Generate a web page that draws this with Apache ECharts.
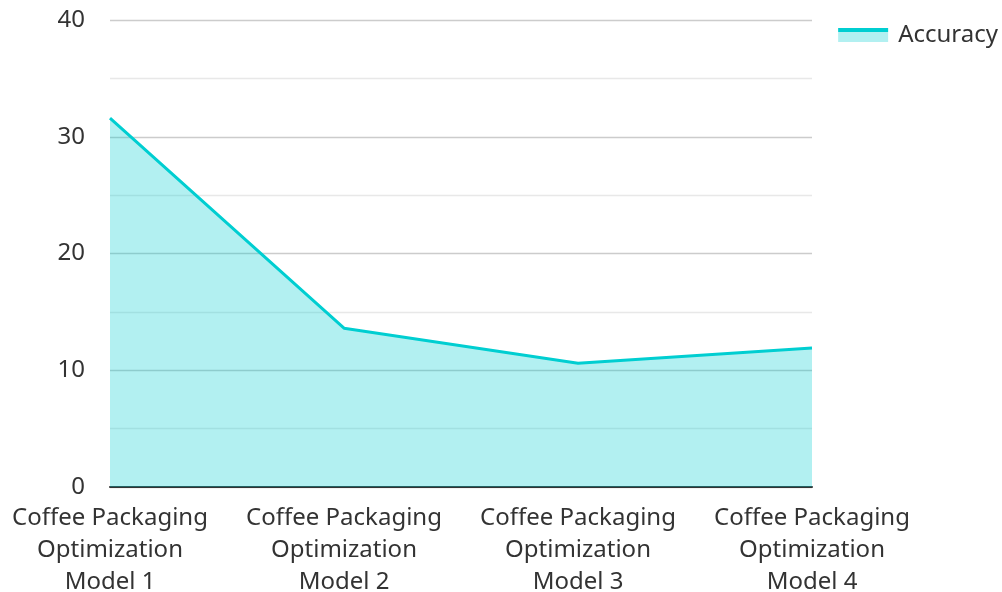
<!DOCTYPE html>
<html>
<head>
<meta charset="utf-8">
<script src="https://cdn.jsdelivr.net/npm/echarts@6/dist/echarts.min.js"></script>
<style>html,body{margin:0;padding:0;background:#fff;}#c{width:1002px;height:592px;}</style>
</head>
<body>
<div id="c"></div>
<script>
var categories = ["Coffee Packaging\nOptimization\nModel 1", "Coffee Packaging\nOptimization\nModel 2", "Coffee Packaging\nOptimization\nModel 3", "Coffee Packaging\nOptimization\nModel 4"];
var accuracy = [31.6, 13.6, 10.6, 11.9];
var seriesName = "Accuracy";

var chart = echarts.init(document.getElementById('c'));
chart.setOption({
  animation: false,
  textStyle: { fontFamily: "Noto Sans" },
  legend: {
    data: [seriesName],
    right: 4, top: 23,
    padding: 0,
    icon: "rect",
    itemWidth: 50, itemHeight: 14,
    itemGap: 10,
    itemStyle: {
      color: new echarts.graphic.LinearGradient(0, 0, 0, 1, [
        { offset: 0, color: "#00CED1" },
        { offset: 0.28, color: "#00CED1" },
        { offset: 0.28, color: "#B2F0F1" },
        { offset: 1, color: "#B2F0F1" }
      ])
    },
    textStyle: { fontSize: 24, color: "#333", fontFamily: "Noto Sans", padding: [0, 0, 5, 5] }
  },
  grid: { left: 110, right: 190, top: 20, bottom: 105, containLabel: false, outerBoundsMode: "none" },
  xAxis: {
    type: "category",
    data: categories,
    boundaryGap: false,
    axisLine: { show: true, lineStyle: { color: "#333", width: 2 } },
    axisTick: { show: false },
    axisLabel: { interval: 0, fontSize: 24, color: "#333", lineHeight: 32, margin: 15, fontFamily: "Noto Sans" },
    splitLine: { show: false }
  },
  yAxis: {
    type: "value",
    min: 0, max: 40, interval: 10,
    axisLine: { show: false },
    axisTick: { show: false },
    axisLabel: { fontSize: 24, color: "#333", margin: 25, fontFamily: "Noto Sans" },
    splitLine: { show: true, lineStyle: { color: "#ccc", width: 1.3 } },
    minorTick: { show: false, splitNumber: 2 },
    minorSplitLine: { show: true, lineStyle: { color: "#e8e8e8", width: 1.3 } }
  },
  series: [{
    name: seriesName,
    type: "line",
    data: accuracy,
    symbol: "none",
    lineStyle: { color: "#00CED1", width: 3 },
    itemStyle: { color: "#00CED1" },
    areaStyle: { color: "#00CED1", opacity: 0.3 }
  }]
});
</script>
</body>
</html>
